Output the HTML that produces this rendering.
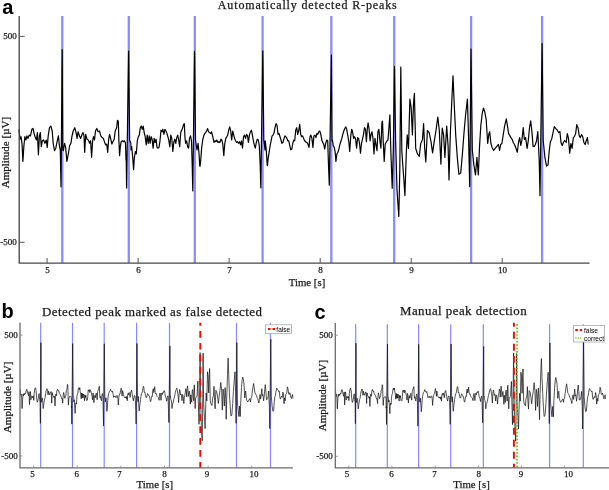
<!DOCTYPE html>
<html><head><meta charset="utf-8"><title>R-peak detection</title>
<style>html,body{margin:0;padding:0;background:#fff;}svg{display:block;}</style>
</head><body>
<svg width="609" height="490" viewBox="0 0 609 490">
<rect width="609" height="490" fill="#fff"/>
<g id="pa">
<line x1="62.3" y1="16" x2="62.3" y2="263" stroke="#8c8cff" stroke-width="2.3"/>
<line x1="128.8" y1="16" x2="128.8" y2="263" stroke="#8c8cff" stroke-width="2.3"/>
<line x1="194.8" y1="16" x2="194.8" y2="263" stroke="#8c8cff" stroke-width="2.3"/>
<line x1="262.6" y1="16" x2="262.6" y2="263" stroke="#8c8cff" stroke-width="2.3"/>
<line x1="331.3" y1="16" x2="331.3" y2="263" stroke="#8c8cff" stroke-width="2.3"/>
<line x1="394.2" y1="16" x2="394.2" y2="263" stroke="#8c8cff" stroke-width="2.3"/>
<line x1="471.1" y1="16" x2="471.1" y2="263" stroke="#8c8cff" stroke-width="2.3"/>
<line x1="542.1" y1="16" x2="542.1" y2="263" stroke="#8c8cff" stroke-width="2.3"/>
<polyline fill="none" stroke="#000" stroke-width="1.2" stroke-linejoin="round" points="19,129.3 20,139.2 21,136.7 22,143.3 22.9,161.4 23.9,145.8 24.9,136.7 25.9,140 26.9,135.9 28,138.4 29.2,135.1 30.5,135.9 31.8,129.3 33,128.5 34.1,133.5 35.4,137.6 36.4,140 37.4,132.6 38.4,154.8 39.4,135.9 40.3,132.6 41.3,146.6 42.3,140.8 43.6,140 44.9,143.3 46.3,140 47.2,147.4 48.2,135.9 49.5,127.7 50.9,126.1 52.2,131 53.2,143.3 54.5,150.7 55.8,148.2 57.1,141.7 58.4,135.9 59.4,145.8 60.3,150 61,186.8 62.2,49.5 62.8,150 63.3,150.7 64.6,143.3 65.6,147.4 66.9,161.4 68.3,154 69.6,145.8 70.9,143.3 71.9,136.7 73.2,131 74.8,127.7 76.1,132.6 77.1,138.4 78.1,131.8 79.4,135.9 80.7,138.4 82.1,134.3 83,132.6 84,135.9 84.7,152.3 85.7,134.3 87,139.2 88.3,140 89.6,143.3 90.6,140.8 91.6,157.3 92.6,140.8 93.5,136.7 94.5,140 95.5,131 96.8,128.5 98.1,131.8 99.5,131 100.8,135.9 102.1,137.6 103.4,138.4 104.4,141.7 105.7,144.9 106.7,144.1 107.7,152.3 108.7,139.2 109.6,134.3 110.6,138.4 111.9,144.1 112.9,141.7 114.2,139.2 115.2,131 116.6,127.7 117.5,120.3 118.3,121.1 118.9,140.8 119.6,155.6 120.4,145.8 121.2,141.7 122.4,140.8 123.5,141.7 124.5,140.8 125.5,143.3 126,160 126.2,157.3 126.6,188 128.6,51 129.6,140 130.8,143.3 131,150 131.7,146.6 132.7,157.3 133.6,169.6 134.4,157.3 135.4,151.5 136.3,154 137.3,140.8 138.3,136.7 139.3,135.1 140.3,127.7 141.3,126.1 142.3,129.3 143.2,126.1 144.2,132.6 145.2,136.7 146.2,144.9 147.2,135.1 148.2,143.3 149.2,135.9 150.1,143.3 151.1,136.7 152.1,139.2 153.1,148.2 154.1,138.4 155.1,142.5 156.1,139.2 157,147.4 158,148.2 159,147.4 160,140.8 161,130.2 162,131.8 162.9,129.3 163.9,134.3 164.9,129.3 165.9,131 166.9,133.5 167.9,136.7 168.9,140.8 169.8,146.6 170.8,135.1 171.8,138.4 172.8,151.5 173.8,142.5 174.8,139.2 175.8,143.3 176.7,137.6 177.7,135.1 178.7,140 179.7,146.6 180.7,132.6 181.7,130.2 182.7,127.7 183.6,124.4 184.3,123.6 185,137.6 185.6,143.3 186.6,140.8 187.6,146.6 188.6,148.2 189.5,138.4 190.5,135.9 191.5,140.8 192.2,165 192.8,191 194.5,51.4 195.5,140 197,150 198.1,143.3 199.1,154.8 199.7,165.5 200,166.4 200.7,160.5 201.7,147.4 202.7,140 203.7,135.9 204.7,133.5 205.6,132.6 206.6,131 207.6,128.5 208.6,131.8 209.6,132.6 210.6,133.5 211.6,131.8 213,137.6 214,142.5 214.9,140.8 215.9,141.7 216.9,140 217.9,142.5 218.9,141.7 219.9,142.5 220.9,139.2 221.8,140 222.8,144.1 223.8,155.6 224.8,143.3 225.8,138.4 226.8,136.7 227.7,135.1 228.7,130.2 229.7,126.9 230.7,131 231.7,140 232.7,131 233.7,135.1 234.6,138.4 235.6,140.8 236.6,142.5 237.6,141.7 238.6,143.3 239.6,141.7 240.6,144.9 241.5,140.8 242.5,148.2 243.5,136.7 244.5,135.1 245.5,138.4 246.5,134.3 247.5,135.9 248.4,142.5 249.4,135.1 250.4,131.8 251.4,130.2 252.4,135.1 253.4,140.8 254.3,144.9 255.3,148.2 256.3,142.5 257.3,139.2 258.3,140 259.3,145.8 260.2,165 260.8,187.8 262.8,50.9 263.8,140 265,150 265.2,140.8 266.2,149.1 267.2,164.7 267.4,165.6 268.1,158.9 269.1,152.3 270.1,145.8 271.1,140.8 272.1,135.9 273.1,135.1 274.1,132.6 275,127.7 276,123.6 277,125.2 278,134.3 279,133.5 280,136.7 281,140 281.9,143.3 282.9,142.5 283.9,139.2 284.9,135.9 285.9,136.7 286.9,138.4 287.8,140.8 288.8,140.8 289.8,145.8 290.8,149.9 291.8,149.1 292.8,143.3 293.8,140 294.7,140.8 295.7,130.2 296.7,127.7 297.7,134.3 298.7,131 299.7,124.4 300.7,134.3 301.6,136.7 302.6,135.9 303.6,138.4 304.6,140.8 305.6,141.7 306.6,142.5 307.6,143.3 309,147.4 310,136.7 310.9,135.1 311.9,138.4 312.9,147.4 313.9,135.9 314.9,135.1 315.9,137.6 316.9,133.5 317.8,134.3 318.8,131.8 319.8,131 320.8,134.3 321.8,140 322.8,142.5 323.7,144.1 324.7,149.1 325.7,143.3 326.7,140 327.7,140.8 328.5,165 329.3,185.2 331.4,55 332,140.8 332.4,140 333.3,145.8 334.3,147.4 335.2,152.3 335.9,161.4 336.9,154 337.9,152.3 338.9,149.1 339.8,144.9 340.8,141.7 341.8,138.4 342.8,134.3 343.8,131 344.8,128.5 345.8,126.9 346.7,129.3 347.7,135.1 348.7,140.8 349.7,151.5 350.7,136.7 351.7,129.3 352.6,131.8 353.6,138.4 354.6,136.7 355.6,139.2 356.6,148.2 357.6,137.6 358.6,138.4 359.5,143.3 360.5,153.2 361.5,143.3 362.5,139.2 363.5,134.3 364.5,127.7 365.5,129.3 366.4,141.7 367.4,127.7 368.1,122.8 369.1,129.3 370.1,140.8 371,134.3 372,131.8 373,138.4 374,154 375,138.4 376,144.9 377,150.7 377.9,131.8 378.9,129.3 379.9,140.8 380.9,148.2 381.9,122.8 382.5,121.1 383.2,140.8 384.2,161.4 385.2,144.1 386.1,142.5 387.1,140.8 388,140 389.9,114.8 390.8,150 392.2,188.3 393.3,150 394.5,66.3 395.6,140 397,190 398.8,216.4 399.8,170 400.8,67.1 401.8,150 402.7,164 403.9,180 404.9,195.6 406.3,152.9 407.2,134.9 408.5,148.4 409.9,99 411.2,108 412.4,134.9 413.5,103.5 414.4,93.4 415.7,148.4 417.5,154 419.3,156.3 420.7,143.9 422.5,139.4 423.6,123.7 424.7,148.4 425.8,161.9 427.4,130.4 429.2,132.7 431,141.7 432.6,152.9 434.2,141.7 436,130.4 437.8,117 439.3,130.4 440.9,164.2 442.2,128.2 443.6,134.9 444.9,157.4 446.7,126 448.1,146.2 449,179.9 450.3,134.9 451.7,103.5 453,75.8 454.4,108 455.7,134.9 457.3,157.4 458.9,174.3 460.7,173.1 462.5,152.9 464,132.7 465.6,114.7 467.4,99 468.5,134.9 469.7,186.6 471,49.1 472.3,150 473.9,165.1 475.5,175 476.9,157.3 478.3,175 479.5,147.4 480.8,125.7 482.2,113.9 483.4,108 484.8,111.9 486.2,119.8 487.7,143.5 488.9,133.6 489.7,131.6 490.9,143.5 492.1,147.4 493.6,150.4 495.2,148.4 496.8,146.4 498.4,144.5 499.6,150.4 500.7,144.5 501.9,143.5 503.1,135.6 504.7,125.7 506.3,118.8 507.4,125.7 508.6,133.6 509.8,135.6 511,137.6 512.2,139.5 513.3,142.5 514.5,144.5 515.7,147.4 517.3,152.3 518.5,142.5 519.7,137.6 520.8,145.4 522,139.5 523.2,127.7 524.4,139.5 525.6,137.6 527.1,148.4 528.3,140.5 529.5,127.7 530.7,120.8 531.9,131.6 533.1,146.4 534.2,146.4 535.4,144.5 536.6,140.5 537.8,131.6 539.2,160 540,195.7 542.1,43.6 543.2,140 543.3,141.5 544.9,157.3 546.5,166.1 548,165.1 549.2,151.3 550.4,141.5 551.6,139.5 552.8,133.6 554.3,126.7 555.9,128.7 557.1,129.7 558.7,132.6 559.9,131.6 561,142.5 562.2,145.4 563.4,142.5 564.6,140.5 566.2,142.5 567.3,133.6 568.5,138.5 569.7,153.3 570.9,143.5 572.1,148.4 573.3,137.6 574.4,136.6 575.6,133.6 576.8,124.7 578,127.7 579.2,135.6 580.3,137.6 581.5,134.6 582.7,136.6 583.9,142.5 585.1,144.5 586.3,140.5 587.4,137.6 588.2,144.5"/>
<path d="M19.2,16V263.1H589.5" fill="none" stroke="#484848" stroke-width="1.35"/>
<path d="M19.2,36.4H24.6M19.2,242.3H24.6" stroke="#555" stroke-width="1"/>
<path d="M47.1,263.1V258M138.1,263.1V258M229.1,263.1V258M320.2,263.1V258M411.2,263.1V258M502.2,263.1V258" stroke="#555" stroke-width="1"/>
</g>
<line x1="40.7" y1="322.8" x2="40.7" y2="467.8" stroke="#8888ff" stroke-width="1.2"/><line x1="72.5" y1="322.8" x2="72.5" y2="467.8" stroke="#8888ff" stroke-width="1.2"/><line x1="104.2" y1="322.8" x2="104.2" y2="467.8" stroke="#8888ff" stroke-width="1.2"/><line x1="136.6" y1="322.8" x2="136.6" y2="467.8" stroke="#8888ff" stroke-width="1.2"/><line x1="169.5" y1="322.8" x2="169.5" y2="467.8" stroke="#8888ff" stroke-width="1.2"/><line x1="236.5" y1="322.8" x2="236.5" y2="467.8" stroke="#8888ff" stroke-width="1.2"/><line x1="270.5" y1="322.8" x2="270.5" y2="467.8" stroke="#8888ff" stroke-width="1.2"/>
<polyline fill="none" stroke="#111" stroke-width="0.72" stroke-linejoin="round" points="20.2,389.6 20.7,395.4 21.2,394 21.7,397.8 22.1,408.5 22.6,399.3 23.1,394 23.5,395.9 24,393.5 24.6,394.9 25.1,393 25.7,393.5 26.4,389.6 26.9,389.2 27.5,392.1 28.1,394.5 28.6,395.9 29,391.6 29.5,404.6 30,393.5 30.5,391.6 30.9,399.8 31.4,396.4 32,395.9 32.7,397.8 33.3,395.9 33.8,400.3 34.2,393.5 34.9,388.7 35.5,387.7 36.1,390.6 36.6,397.8 37.2,402.2 37.9,400.7 38.5,396.9 39.1,393.5 39.6,399.3 40,401.8 40.4,423.4 40.9,342.7 41.2,401.8 41.5,402.2 42.1,397.8 42.6,400.3 43.2,408.5 43.8,404.1 44.5,399.3 45.1,397.8 45.6,394 46.2,390.6 47,388.7 47.6,391.6 48.1,394.9 48.6,391.1 49.2,393.5 49.8,394.9 50.4,392.5 50.9,391.6 51.4,393.5 51.7,403.1 52.2,392.5 52.8,395.4 53.4,395.9 54.1,397.8 54.5,396.4 55,406 55.5,396.4 55.9,394 56.4,395.9 56.9,390.6 57.5,389.2 58.2,391.1 58.8,390.6 59.4,393.5 60,394.5 60.7,394.9 61.1,396.9 61.8,398.8 62.2,398.3 62.7,403.1 63.2,395.4 63.7,392.5 64.1,394.9 64.8,398.3 65.2,396.9 65.9,395.4 66.3,390.6 67,388.7 67.4,384.3 67.8,384.8 68.1,396.4 68.4,405.1 68.8,399.3 69.2,396.9 69.8,396.4 70.3,396.9 70.8,396.4 71.3,397.8 71.5,407.7 71.6,406 71.8,424.1 72.7,343.6 73.2,395.9 73.8,397.8 73.9,401.8 74.2,399.8 74.7,406 75.1,413.3 75.5,406 76,402.7 76.5,404.1 76.9,396.4 77.4,394 77.9,393 78.3,388.7 78.8,387.7 79.3,389.6 79.8,387.7 80.2,391.6 80.7,394 81.2,398.8 81.6,393 82.1,397.8 82.6,393.5 83.1,397.8 83.5,394 84,395.4 84.5,400.7 84.9,394.9 85.4,397.4 85.9,395.4 86.4,400.3 86.8,400.7 87.3,400.3 87.8,396.4 88.2,390.1 88.7,391.1 89.2,389.6 89.7,392.5 90.1,389.6 90.6,390.6 91.1,392.1 91.6,394 92,396.4 92.5,399.8 93,393 93.4,394.9 93.9,402.7 94.4,397.4 94.9,395.4 95.3,397.8 95.8,394.5 96.3,393 96.7,395.9 97.2,399.8 97.7,391.6 98.2,390.1 98.6,388.7 99.1,386.7 99.4,386.3 99.7,394.5 100,397.8 100.5,396.4 101,399.8 101.5,400.7 101.9,394.9 102.4,393.5 102.9,396.4 103.2,410.6 103.5,425.9 104.3,343.8 104.8,395.9 105.5,401.8 106,397.8 106.5,404.6 106.8,410.9 106.9,411.4 107.3,408 107.8,400.3 108.2,395.9 108.7,393.5 109.2,392.1 109.6,391.6 110.1,390.6 110.6,389.2 111.1,391.1 111.5,391.6 112,392.1 112.5,391.1 113.2,394.5 113.6,397.4 114.1,396.4 114.6,396.9 115,395.9 115.5,397.4 116,396.9 116.5,397.4 116.9,395.4 117.4,395.9 117.9,398.3 118.3,405.1 118.8,397.8 119.3,394.9 119.8,394 120.2,393 120.7,390.1 121.2,388.2 121.6,390.6 122.1,395.9 122.6,390.6 123.1,393 123.5,394.9 124,396.4 124.5,397.4 125,396.9 125.4,397.8 125.9,396.9 126.4,398.8 126.8,396.4 127.3,400.7 127.8,394 128.3,393 128.7,394.9 129.2,392.5 129.7,393.5 130.1,397.4 130.6,393 131.1,391.1 131.6,390.1 132,393 132.5,396.4 133,398.8 133.4,400.7 133.9,397.4 134.4,395.4 134.9,395.9 135.3,399.3 135.8,410.6 136.1,424 137,343.5 137.5,395.9 138.1,401.8 138.2,396.4 138.6,401.2 139.1,410.4 139.2,410.9 139.6,407 140.1,403.1 140.5,399.3 141,396.4 141.5,393.5 141.9,393 142.4,391.6 142.9,388.7 143.4,386.3 143.8,387.2 144.3,392.5 144.8,392.1 145.2,394 145.7,395.9 146.2,397.8 146.7,397.4 147.1,395.4 147.6,393.5 148.1,394 148.5,394.9 149,396.4 149.5,396.4 150,399.3 150.4,401.7 150.9,401.2 151.4,397.8 151.9,395.9 152.3,396.4 152.8,390.1 153.3,388.7 153.7,392.5 154.2,390.6 154.7,386.7 155.2,392.5 155.6,394 156.1,393.5 156.6,394.9 157,396.4 157.5,396.9 158,397.4 158.5,397.8 159.1,400.3 159.6,394 160.1,393 160.6,394.9 161,400.3 161.5,393.5 162,393 162.4,394.5 162.9,392.1 163.4,392.5 163.9,391.1 164.3,390.6 164.8,392.5 165.3,395.9 165.7,397.4 166.2,398.3 166.7,401.2 167.2,397.8 167.6,395.9 168.1,396.4 168.5,410.6 168.9,422.5 169.9,345.9 170.2,396.4 170.4,395.9 170.8,399.3 171.3,400.3 171.7,403.1 172,408.5 172.5,404.1 173,403.1 173.5,401.2 173.9,398.8 174.4,396.9 174.9,394.9 175.3,392.5 175.8,390.6 176.3,389.2 176.8,388.2 177.2,389.6 177.7,393 178.2,396.4 178.6,402.7 179.1,394 179.6,389.6 180.1,391.1 180.5,394.9 181,394 181.5,395.4 182,400.7 182.4,394.5 182.9,394.9 183.4,397.8 183.8,403.6 184.3,397.8 184.8,395.4 185.3,392.5 185.7,388.7 186.2,389.6 186.7,396.9 187.1,388.7 187.5,385.8 187.9,389.6 188.4,396.4 188.9,392.5 189.3,391.1 189.8,394.9 190.3,404.1 190.8,394.9 191.2,398.8 191.7,402.2 192.2,391.1 192.6,389.6 193.1,396.4 193.6,400.7 194.1,385.8 194.4,384.8 194.7,396.4 195.2,408.5 195.6,398.3 196.1,397.4 196.6,396.4 197,395.9 197.9,381.1 198.3,401.8 199,424.3 199.5,401.8 200.1,352.6 200.6,395.9 201.3,425.3 202.2,440.8 202.6,413.5 203.1,353.1 203.6,401.8 204,410 204.6,419.4 205.1,428.6 205.8,403.5 206.2,392.9 206.8,400.9 207.5,371.8 208.1,377.1 208.7,392.9 209.2,374.4 209.6,368.5 210.3,400.9 211.1,404.2 212,405.5 212.6,398.2 213.5,395.6 214,386.3 214.6,400.9 215.1,408.8 215.9,390.3 216.7,391.6 217.6,396.9 218.4,403.5 219.1,396.9 220,390.3 220.8,382.4 221.6,390.3 222.3,410.1 223,389 223.6,392.9 224.3,406.1 225.1,387.6 225.8,399.5 226.2,419.3 226.9,392.9 227.5,374.4 228.1,358.2 228.8,377.1 229.4,392.9 230.2,406.1 230.9,416 231.8,415.4 232.7,403.5 233.4,391.6 234.2,381 235,371.8 235.6,392.9 236.1,423.3 236.8,342.5 237.4,401.8 238.2,410.7 238.9,416.5 239.6,406 240.2,416.5 240.8,400.3 241.5,387.5 242.1,380.6 242.7,377.1 243.4,379.4 244,384 244.8,397.9 245.3,392.1 245.7,391 246.3,397.9 246.8,400.3 247.6,402 248.4,400.8 249.1,399.7 249.9,398.5 250.4,402 251,398.5 251.6,397.9 252.1,393.3 252.9,387.5 253.6,383.5 254.2,387.5 254.8,392.1 255.3,393.3 255.9,394.5 256.5,395.6 257,397.4 257.6,398.5 258.2,400.3 258.9,403.1 259.5,397.4 260.1,394.5 260.6,399.1 261.2,395.6 261.8,388.7 262.3,395.6 262.9,394.5 263.6,400.8 264.2,396.2 264.8,388.7 265.3,384.6 265.9,391 266.5,399.7 267,399.7 267.6,398.5 268.2,396.2 268.7,391 269.4,407.7 269.8,428.6 270.8,339.2 271.3,395.9 271.4,396.8 272.1,406 272.9,411.3 273.7,410.7 274.2,402.6 274.8,396.8 275.4,395.6 275.9,392.1 276.7,388.1 277.4,389.3 278,389.8 278.7,391.6 279.3,391 279.9,397.4 280.4,399.1 281,397.4 281.6,396.2 282.3,397.4 282.9,392.1 283.5,395 284,403.7 284.6,397.9 285.2,400.8 285.7,394.5 286.3,393.9 286.9,392.1 287.4,386.9 288,388.7 288.6,393.3 289.1,394.5 289.7,392.7 290.3,393.9 290.8,397.4 291.4,398.5 292,396.2 292.5,394.5 292.9,398.5"/>
<line x1="200.3" y1="322.8" x2="200.3" y2="467.8" stroke="#ff0000" stroke-width="1.9" stroke-dasharray="6.7 5.2" stroke-dashoffset="3.7"/>
<path d="M20,322.6V467.9H292.8" fill="none" stroke="#6a6a6a" stroke-width="1.3"/>
<path d="M20,335.1H22.7M20,456H22.7" stroke="#888" stroke-width="0.8"/>
<path d="M33.7,467.8V465.5M77.3,467.8V465.5M120.9,467.8V465.5M164.5,467.8V465.5M208.1,467.8V465.5M251.7,467.8V465.5" stroke="#888" stroke-width="0.8"/>
<rect x="265.5" y="324.8" width="26" height="8.7" fill="#fff" stroke="#aaa" stroke-width="0.8"/>
<line x1="268" y1="329" x2="275" y2="329" stroke="#f00" stroke-width="1.8" stroke-dasharray="2.5 2"/>
<text x="276.3" y="331.6" style="font-family:'Liberation Sans',Arial,sans-serif;font-size:6.6px" fill="#000">false</text>
<line x1="355.7" y1="324.2" x2="355.7" y2="467.8" stroke="#8888ff" stroke-width="1.2"/><line x1="387.3" y1="324.2" x2="387.3" y2="467.8" stroke="#8888ff" stroke-width="1.2"/><line x1="418.6" y1="324.2" x2="418.6" y2="467.8" stroke="#8888ff" stroke-width="1.2"/><line x1="450.7" y1="324.2" x2="450.7" y2="467.8" stroke="#8888ff" stroke-width="1.2"/><line x1="483.3" y1="324.2" x2="483.3" y2="467.8" stroke="#8888ff" stroke-width="1.2"/><line x1="549.6" y1="324.2" x2="549.6" y2="467.8" stroke="#8888ff" stroke-width="1.2"/><line x1="583.3" y1="324.2" x2="583.3" y2="467.8" stroke="#8888ff" stroke-width="1.2"/>
<polyline fill="none" stroke="#111" stroke-width="0.72" stroke-linejoin="round" points="335.5,390 335.9,395.8 336.4,394.3 336.9,398.2 337.3,408.8 337.8,399.6 338.3,394.3 338.7,396.3 339.2,393.9 339.8,395.3 340.3,393.4 340.9,393.9 341.5,390 342.1,389.5 342.6,392.4 343.3,394.8 343.7,396.3 344.2,391.9 344.7,404.9 345.1,393.9 345.6,391.9 346.1,400.1 346.5,396.7 347.2,396.3 347.8,398.2 348.4,396.3 348.9,400.6 349.3,393.9 350,389 350.6,388.1 351.2,391 351.7,398.2 352.3,402.5 352.9,401.1 353.5,397.2 354.2,393.9 354.6,399.6 355.1,402.1 355.4,423.7 356,343.2 356.2,402.1 356.5,402.5 357.1,398.2 357.6,400.6 358.2,408.8 358.8,404.4 359.5,399.6 360.1,398.2 360.6,394.3 361.2,391 362,389 362.6,391.9 363,395.3 363.5,391.4 364.1,393.9 364.8,395.3 365.4,392.9 365.8,391.9 366.3,393.9 366.6,403.5 367.1,392.9 367.7,395.8 368.3,396.3 369,398.2 369.4,396.7 369.9,406.4 370.4,396.7 370.8,394.3 371.3,396.3 371.8,391 372.4,389.5 373,391.4 373.6,391 374.3,393.9 374.9,394.8 375.5,395.3 376,397.2 376.6,399.2 377.1,398.7 377.5,403.5 378,395.8 378.5,392.9 378.9,395.3 379.6,398.7 380,397.2 380.7,395.8 381.1,391 381.8,389 382.2,384.7 382.6,385.2 382.9,396.7 383.2,405.4 383.6,399.6 384,397.2 384.5,396.7 385.1,397.2 385.5,396.7 386,398.2 386.2,408 386.3,406.4 386.5,424.4 387.5,344 387.9,396.2 388.5,398.2 388.6,402.1 389,400.1 389.4,406.4 389.8,413.6 390.2,406.4 390.7,403 391.1,404.4 391.6,396.7 392.1,394.3 392.5,393.4 393,389 393.5,388.1 393.9,390 394.4,388.1 394.9,391.9 395.3,394.3 395.8,399.2 396.3,393.4 396.7,398.2 397.2,393.9 397.7,398.2 398.1,394.3 398.6,395.8 399.1,401.1 399.6,395.3 400,397.7 400.5,395.8 401,400.6 401.4,401.1 401.9,400.6 402.4,396.7 402.8,390.5 403.3,391.4 403.8,390 404.2,392.9 404.7,390 405.2,391 405.6,392.4 406.1,394.3 406.6,396.7 407,400.1 407.5,393.4 408,395.3 408.4,403 408.9,397.7 409.4,395.8 409.8,398.2 410.3,394.8 410.8,393.4 411.2,396.3 411.7,400.1 412.2,391.9 412.6,390.5 413.1,389 413.6,387.1 413.9,386.6 414.2,394.8 414.5,398.2 415,396.7 415.4,400.1 415.9,401.1 416.4,395.3 416.8,393.9 417.3,396.7 417.6,410.9 417.9,426.2 418.7,344.3 419.2,396.2 419.9,402.1 420.4,398.2 420.9,404.9 421.2,411.2 421.3,411.7 421.7,408.3 422.1,400.6 422.6,396.3 423.1,393.9 423.5,392.4 424,391.9 424.5,391 424.9,389.5 425.4,391.4 425.9,391.9 426.3,392.4 426.8,391.4 427.5,394.8 428,397.7 428.4,396.7 428.9,397.2 429.4,396.3 429.8,397.7 430.3,397.2 430.8,397.7 431.2,395.8 431.7,396.3 432.2,398.7 432.6,405.4 433.1,398.2 433.6,395.3 434,394.3 434.5,393.4 435,390.5 435.4,388.6 435.9,391 436.4,396.3 436.8,391 437.3,393.4 437.8,395.3 438.2,396.7 438.7,397.7 439.2,397.2 439.6,398.2 440.1,397.2 440.6,399.2 441,396.7 441.5,401.1 442,394.3 442.4,393.4 442.9,395.3 443.4,392.9 443.8,393.9 444.3,397.7 444.8,393.4 445.2,391.4 445.7,390.5 446.2,393.4 446.7,396.7 447.1,399.2 447.6,401.1 448.1,397.7 448.5,395.8 449,396.3 449.5,399.6 449.9,410.9 450.2,424.3 451.1,344 451.6,396.2 452.2,402.1 452.3,396.7 452.7,401.6 453.2,410.7 453.3,411.3 453.7,407.3 454.1,403.5 454.6,399.6 455.1,396.7 455.5,393.9 456,393.4 456.5,391.9 456.9,389 457.4,386.6 457.9,387.6 458.3,392.9 458.8,392.4 459.3,394.3 459.7,396.3 460.2,398.2 460.7,397.7 461.1,395.8 461.6,393.9 462.1,394.3 462.5,395.3 463,396.7 463.5,396.7 463.9,399.6 464.4,402 464.9,401.6 465.3,398.2 465.8,396.3 466.3,396.7 466.7,390.5 467.2,389 467.7,392.9 468.2,391 468.6,387.1 469.1,392.9 469.6,394.3 470,393.9 470.5,395.3 471,396.7 471.4,397.2 471.9,397.7 472.4,398.2 473,400.6 473.5,394.3 474,393.4 474.4,395.3 474.9,400.6 475.4,393.9 475.8,393.4 476.3,394.8 476.8,392.4 477.2,392.9 477.7,391.4 478.2,391 478.6,392.9 479.1,396.3 479.6,397.7 480,398.7 480.5,401.6 481,398.2 481.4,396.3 481.9,396.7 482.3,410.9 482.7,422.8 483.7,346.4 483.9,396.7 484.1,396.2 484.6,399.6 485,400.6 485.5,403.5 485.8,408.8 486.3,404.4 486.7,403.5 487.2,401.6 487.7,399.2 488.1,397.2 488.6,395.3 489.1,392.9 489.5,391 490,389.5 490.5,388.6 490.9,390 491.4,393.4 491.9,396.7 492.4,403 492.8,394.3 493.3,390 493.8,391.4 494.2,395.3 494.7,394.3 495.2,395.8 495.6,401.1 496.1,394.8 496.6,395.3 497,398.2 497.5,404 498,398.2 498.4,395.8 498.9,392.9 499.4,389 499.8,390 500.3,397.2 500.8,389 501.1,386.1 501.5,390 502,396.7 502.5,392.9 502.9,391.4 503.4,395.3 503.9,404.4 504.3,395.3 504.8,399.2 505.3,402.5 505.7,391.4 506.2,390 506.7,396.7 507.2,401.1 507.6,386.1 507.9,385.2 508.2,396.7 508.7,408.8 509.2,398.7 509.6,397.7 510.1,396.7 510.5,396.2 511.4,381.5 511.9,402.1 512.5,424.6 513,402.1 513.6,353 514.1,396.2 514.8,425.6 515.6,441.1 516.1,413.9 516.6,353.5 517.1,402.1 517.5,410.3 518.1,419.7 518.5,428.9 519.2,403.8 519.6,393.3 520.3,401.2 520.9,372.2 521.5,377.5 522.1,393.3 522.6,374.8 523,368.9 523.7,401.2 524.5,404.5 525.4,405.8 526,398.6 526.9,395.9 527.4,386.7 527.9,401.2 528.5,409.1 529.2,390.6 530.1,392 530.9,397.2 531.7,403.8 532.4,397.2 533.3,390.6 534.1,382.7 534.9,390.6 535.6,410.4 536.3,389.3 536.9,393.3 537.5,406.5 538.4,388 539,399.9 539.5,419.7 540.1,393.3 540.7,374.8 541.4,358.6 542,377.5 542.7,393.3 543.4,406.5 544.1,416.4 545,415.7 545.9,403.8 546.6,392 547.3,381.4 548.2,372.2 548.7,393.3 549.3,423.6 549.9,342.9 550.5,402.1 551.3,411 552,416.8 552.7,406.4 553.4,416.8 553.9,400.6 554.6,387.9 555.2,380.9 555.8,377.5 556.4,379.8 557.1,384.4 557.8,398.3 558.4,392.5 558.8,391.3 559.3,398.3 559.9,400.6 560.6,402.3 561.4,401.2 562.1,400 562.9,398.9 563.4,402.3 564,398.9 564.6,398.3 565.1,393.7 565.9,387.9 566.6,383.8 567.2,387.9 567.7,392.5 568.3,393.7 568.9,394.8 569.4,396 570,397.7 570.6,398.9 571.1,400.6 571.9,403.5 572.4,397.7 573,394.8 573.5,399.4 574.1,396 574.7,389 575.2,396 575.8,394.8 576.5,401.2 577.1,396.5 577.7,389 578.2,385 578.8,391.3 579.3,400 579.9,400 580.5,398.9 581,396.5 581.6,391.3 582.3,408 582.6,428.9 583.6,339.7 584.2,396.2 584.2,397.1 584.9,406.4 585.7,411.6 586.4,411 587,402.9 587.6,397.1 588.1,396 588.7,392.5 589.4,388.5 590.2,389.6 590.7,390.2 591.5,391.9 592.1,391.3 592.6,397.7 593.2,399.4 593.7,397.7 594.3,396.5 595,397.7 595.6,392.5 596.2,395.4 596.7,404.1 597.3,398.3 597.8,401.2 598.4,394.8 599,394.2 599.5,392.5 600.1,387.3 600.7,389 601.2,393.7 601.8,394.8 602.3,393.1 602.9,394.2 603.5,397.7 604,398.9 604.6,396.5 605.1,394.8 605.5,398.9"/>
<line x1="513.9" y1="322.8" x2="513.9" y2="467.8" stroke="#ff0000" stroke-width="1.9" stroke-dasharray="7 5" stroke-dashoffset="3"/>
<line x1="517.1" y1="324.1" x2="517.1" y2="467.8" stroke="#66cc22" stroke-width="1.8" stroke-dasharray="1.6 1.77"/>
<path d="M335.3,322.9V467.9H609" fill="none" stroke="#6a6a6a" stroke-width="1.3"/>
<path d="M335.3,335.2H338M335.3,456.3H338" stroke="#888" stroke-width="0.8"/>
<path d="M348.8,467.8V465.5M392,467.8V465.5M435.2,467.8V465.5M478.3,467.8V465.5M521.5,467.8V465.5M564.7,467.8V465.5" stroke="#888" stroke-width="0.8"/>
<rect x="573.4" y="325.5" width="31" height="16.5" fill="#fff" stroke="#aaa" stroke-width="0.8"/>
<line x1="575.3" y1="330" x2="582.1" y2="330" stroke="#f00" stroke-width="1.8" stroke-dasharray="2.5 2"/>
<line x1="575.3" y1="338" x2="582.1" y2="338" stroke="#66cc22" stroke-width="1.6" stroke-dasharray="1.2 1.2"/>
<text x="584" y="332.6" style="font-family:'Liberation Sans',Arial,sans-serif;font-size:6.6px" fill="#000">false</text>
<text x="584" y="340.6" style="font-family:'Liberation Sans',Arial,sans-serif;font-size:6.6px" fill="#000">correct</text>
<text x="2.2" y="14.1" text-anchor="start" style="font-family:'Liberation Sans',Arial,sans-serif;font-size:20px;font-weight:bold" fill="#000" >a</text>
<text x="1.6" y="318" text-anchor="start" style="font-family:'Liberation Sans',Arial,sans-serif;font-size:20px;font-weight:bold" fill="#000" >b</text>
<text x="314.5" y="318.5" text-anchor="start" style="font-family:'Liberation Sans',Arial,sans-serif;font-size:20px;font-weight:bold" fill="#000" >c</text>
<text x="217.8" y="8.9" text-anchor="start" style="font-family:'Liberation Serif','Times New Roman',serif;font-size:12px;font-weight:normal" fill="#1a1a1a" stroke="#1a1a1a" stroke-width="0.25" letter-spacing="0.86">Automatically detected R-peaks</text>
<text x="42" y="316" text-anchor="start" style="font-family:'Liberation Serif','Times New Roman',serif;font-size:12.9px;font-weight:normal" fill="#1a1a1a" stroke="#1a1a1a" stroke-width="0.25" letter-spacing="0.46">Detected peak marked as false detected</text>
<text x="400" y="314.6" text-anchor="start" style="font-family:'Liberation Serif','Times New Roman',serif;font-size:12.9px;font-weight:normal" fill="#1a1a1a" stroke="#1a1a1a" stroke-width="0.25" letter-spacing="0.46">Manual peak detection</text>
<text x="16.7" y="39.4" text-anchor="end" style="font-family:'Liberation Serif','Times New Roman',serif;font-size:9px;font-weight:normal" fill="#1a1a1a" stroke="#1a1a1a" stroke-width="0.25" >500</text>
<text x="16.7" y="245.3" text-anchor="end" style="font-family:'Liberation Serif','Times New Roman',serif;font-size:9px;font-weight:normal" fill="#1a1a1a" stroke="#1a1a1a" stroke-width="0.25" >-500</text>
<text x="47.5" y="272.8" text-anchor="middle" style="font-family:'Liberation Serif','Times New Roman',serif;font-size:9px;font-weight:normal" fill="#1a1a1a" stroke="#1a1a1a" stroke-width="0.25" >5</text>
<text x="138.5" y="272.8" text-anchor="middle" style="font-family:'Liberation Serif','Times New Roman',serif;font-size:9px;font-weight:normal" fill="#1a1a1a" stroke="#1a1a1a" stroke-width="0.25" >6</text>
<text x="229.5" y="272.8" text-anchor="middle" style="font-family:'Liberation Serif','Times New Roman',serif;font-size:9px;font-weight:normal" fill="#1a1a1a" stroke="#1a1a1a" stroke-width="0.25" >7</text>
<text x="320.6" y="272.8" text-anchor="middle" style="font-family:'Liberation Serif','Times New Roman',serif;font-size:9px;font-weight:normal" fill="#1a1a1a" stroke="#1a1a1a" stroke-width="0.25" >8</text>
<text x="411.6" y="272.8" text-anchor="middle" style="font-family:'Liberation Serif','Times New Roman',serif;font-size:9px;font-weight:normal" fill="#1a1a1a" stroke="#1a1a1a" stroke-width="0.25" >9</text>
<text x="502.6" y="272.8" text-anchor="middle" style="font-family:'Liberation Serif','Times New Roman',serif;font-size:9px;font-weight:normal" fill="#1a1a1a" stroke="#1a1a1a" stroke-width="0.25" >10</text>
<text x="307" y="285.7" text-anchor="middle" style="font-family:'Liberation Serif','Times New Roman',serif;font-size:10.8px;font-weight:normal" fill="#1a1a1a" stroke="#1a1a1a" stroke-width="0.25" >Time [s]</text>
<text transform="translate(9.4,152.6) rotate(-90)" text-anchor="middle" style="font-family:'Liberation Serif','Times New Roman',serif;font-size:11px" fill="#1a1a1a" stroke="#1a1a1a" stroke-width="0.25">Amplitude [&#181;V]</text>
<text x="17.7" y="338" text-anchor="end" style="font-family:'Liberation Serif','Times New Roman',serif;font-size:9px;font-weight:normal" fill="#1a1a1a" stroke="#1a1a1a" stroke-width="0.25" >500</text>
<text x="17.7" y="459" text-anchor="end" style="font-family:'Liberation Serif','Times New Roman',serif;font-size:9px;font-weight:normal" fill="#1a1a1a" stroke="#1a1a1a" stroke-width="0.25" >-500</text>
<text x="32.4" y="477.3" text-anchor="middle" style="font-family:'Liberation Serif','Times New Roman',serif;font-size:9px;font-weight:normal" fill="#1a1a1a" stroke="#1a1a1a" stroke-width="0.25" >5</text>
<text x="76.8" y="477.3" text-anchor="middle" style="font-family:'Liberation Serif','Times New Roman',serif;font-size:9px;font-weight:normal" fill="#1a1a1a" stroke="#1a1a1a" stroke-width="0.25" >6</text>
<text x="119.5" y="477.3" text-anchor="middle" style="font-family:'Liberation Serif','Times New Roman',serif;font-size:9px;font-weight:normal" fill="#1a1a1a" stroke="#1a1a1a" stroke-width="0.25" >7</text>
<text x="164.6" y="477.3" text-anchor="middle" style="font-family:'Liberation Serif','Times New Roman',serif;font-size:9px;font-weight:normal" fill="#1a1a1a" stroke="#1a1a1a" stroke-width="0.25" >8</text>
<text x="206.9" y="477.3" text-anchor="middle" style="font-family:'Liberation Serif','Times New Roman',serif;font-size:9px;font-weight:normal" fill="#1a1a1a" stroke="#1a1a1a" stroke-width="0.25" >9</text>
<text x="253.9" y="477.3" text-anchor="middle" style="font-family:'Liberation Serif','Times New Roman',serif;font-size:9px;font-weight:normal" fill="#1a1a1a" stroke="#1a1a1a" stroke-width="0.25" >10</text>
<text x="154.8" y="487.8" text-anchor="middle" style="font-family:'Liberation Serif','Times New Roman',serif;font-size:10.8px;font-weight:normal" fill="#1a1a1a" stroke="#1a1a1a" stroke-width="0.25" >Time [s]</text>
<text transform="translate(10.6,397.4) rotate(-90)" text-anchor="middle" style="font-family:'Liberation Serif','Times New Roman',serif;font-size:11px" fill="#1a1a1a" stroke="#1a1a1a" stroke-width="0.25">Amplitude [&#181;V]</text>
<text x="332.8" y="338.2" text-anchor="end" style="font-family:'Liberation Serif','Times New Roman',serif;font-size:9px;font-weight:normal" fill="#1a1a1a" stroke="#1a1a1a" stroke-width="0.25" >500</text>
<text x="332.8" y="459.3" text-anchor="end" style="font-family:'Liberation Serif','Times New Roman',serif;font-size:9px;font-weight:normal" fill="#1a1a1a" stroke="#1a1a1a" stroke-width="0.25" >-500</text>
<text x="347.1" y="477.2" text-anchor="middle" style="font-family:'Liberation Serif','Times New Roman',serif;font-size:9px;font-weight:normal" fill="#1a1a1a" stroke="#1a1a1a" stroke-width="0.25" >5</text>
<text x="391.6" y="477.2" text-anchor="middle" style="font-family:'Liberation Serif','Times New Roman',serif;font-size:9px;font-weight:normal" fill="#1a1a1a" stroke="#1a1a1a" stroke-width="0.25" >6</text>
<text x="434.4" y="477.2" text-anchor="middle" style="font-family:'Liberation Serif','Times New Roman',serif;font-size:9px;font-weight:normal" fill="#1a1a1a" stroke="#1a1a1a" stroke-width="0.25" >7</text>
<text x="478.8" y="477.2" text-anchor="middle" style="font-family:'Liberation Serif','Times New Roman',serif;font-size:9px;font-weight:normal" fill="#1a1a1a" stroke="#1a1a1a" stroke-width="0.25" >8</text>
<text x="521" y="477.2" text-anchor="middle" style="font-family:'Liberation Serif','Times New Roman',serif;font-size:9px;font-weight:normal" fill="#1a1a1a" stroke="#1a1a1a" stroke-width="0.25" >9</text>
<text x="568.6" y="477.2" text-anchor="middle" style="font-family:'Liberation Serif','Times New Roman',serif;font-size:9px;font-weight:normal" fill="#1a1a1a" stroke="#1a1a1a" stroke-width="0.25" >10</text>
<text x="471.5" y="487.7" text-anchor="middle" style="font-family:'Liberation Serif','Times New Roman',serif;font-size:10.8px;font-weight:normal" fill="#1a1a1a" stroke="#1a1a1a" stroke-width="0.25" >Time [s]</text>
<text transform="translate(325.8,395.6) rotate(-90)" text-anchor="middle" style="font-family:'Liberation Serif','Times New Roman',serif;font-size:11px" fill="#1a1a1a" stroke="#1a1a1a" stroke-width="0.25">Amplitude [&#181;V]</text>
</svg>
</body></html>
